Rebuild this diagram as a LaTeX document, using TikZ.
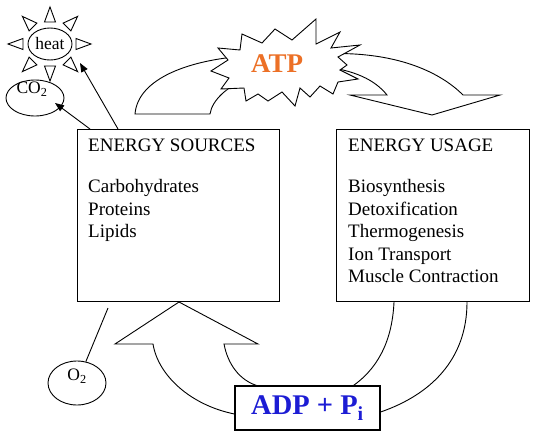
\documentclass[tikz,border=0pt]{standalone}
\usepackage{fontspec}
\setmainfont{Liberation Serif}
\usepackage{tikz}
\usetikzlibrary{arrows.meta,positioning,shapes.geometric}
\definecolor{atporange}{RGB}{236,112,38}
\definecolor{adpblue}{RGB}{28,28,212}

\begin{document}
\begin{tikzpicture}[x=1pt,y=-1pt,
  box/.style={draw,line width=1.1pt,inner sep=0pt},
  txt/.style={font=\fontsize{19}{22.4}\selectfont,align=left,inner sep=0pt,anchor=north west},
  bubble/.style={draw,ellipse,line width=0.9pt,inner sep=0pt},
  small/.style={font=\fontsize{17.5}{19}\selectfont,inner sep=0pt},
  hollow/.style={draw,line width=0.9pt,line join=miter},
  burst/.style={draw,fill=white,line width=0.9pt,line join=miter},
  arr/.style={-{Triangle[length=9pt,width=7pt]},line width=0.9pt},
  link/.style={line width=0.9pt}]
\useasboundingbox (0,0) rectangle (540,431);
% boxes
\node[box,minimum width=202pt,minimum height=172pt,anchor=north west] (src) at (77,129) {};
\node[box,minimum width=193pt,minimum height=172pt,anchor=north west] (use) at (336,129) {};
\node[box,minimum width=145pt,minimum height=44pt,font=\bfseries\fontsize{28.5}{28.5}\selectfont,text=adpblue] (adp) at (307.5,408) {ADP + P\textsubscript{i}};
\node[txt] (srctxt) at (88,138.3) {ENERGY SOURCES\\[19.5pt]Carbohydrates\\Proteins\\Lipids};
\node[txt] (usetxt) at (348,138.3) {ENERGY USAGE\\[19.5pt]Biosynthesis\\Detoxification\\Thermogenesis\\Ion Transport\\Muscle Contraction};
% side products
\node[bubble,minimum width=44pt,minimum height=32pt,small] (heat) at (50,44) {heat};
\foreach \a/\r in {0/26,45/24,90/22,135/24,180/27,225/24,270/22,315/24}
  \draw[hollow,shift={(heat.center)},rotate=\a] (\r,-5.5) -- (\r+15,0) -- (\r,5.5) -- cycle;
\node[bubble,minimum width=58pt,minimum height=36pt] (co2) at (35,98) {};
\node[small] (co2lab) at (32,89) {CO\textsubscript{2}};
\node[bubble,minimum width=58pt,minimum height=44pt] (o2) at (77,383) {};
\node[small] (o2lab) at (77,376) {O\textsubscript{2}};
\coordinate (heattip) at (80,63);
\coordinate (co2tip) at (55,103);
\coordinate (o2src) at (108,308);
\draw[arr] ([xshift=41pt]src.north west) -- (heattip);
\draw[arr] ([xshift=13pt]src.north west) -- (co2tip);
\draw[link] (o2src) -- (o2);
% big hollow arrows, top
\draw[hollow] (135,114) .. controls (138,78) and (190,60) .. (245,56)
  -- (245,80) .. controls (228,86) and (212,100) .. (210,114) -- cycle;
\draw[hollow] (320,54) .. controls (395,50) and (440,72) .. (463,95)
  -- (500,95) -- (432,115) -- (350,95) -- (387,95)
  .. controls (375,80) and (355,70) .. (320,66) -- cycle;
\draw[burst] (316,19) -- (316,44) -- (340,32) -- (331,48) -- (360,45) -- (338,57)
  -- (347,65) -- (340,70) -- (358,79) -- (338,82) -- (333,94) -- (320,86)
  -- (310,97) -- (300,88) -- (295,106) -- (282,92) -- (268,101) -- (258,94)
  -- (246,101) -- (244,88) -- (221,89) -- (229,78) -- (211,71) -- (228,60)
  -- (218,48) -- (240,50) -- (242,34) -- (262,43) -- (275,29) -- (292,40) -- cycle;
\node[font=\bfseries\fontsize{27}{27}\selectfont,text=atporange] (atp) at (277,64) {ATP};
% return path to ADP
\draw[hollow] ([xshift=22pt]adp.north west) .. controls (240,380) and (228,365) .. (224,344)
  -- (258,344) -- (179,302) -- (115,344) -- (153,344)
  .. controls (158,375) and (190,405) .. ([yshift=-6pt]adp.west);
\draw[link] ([xshift=58pt]use.south west) .. controls (392,345) and (375,370) .. ([xshift=-27pt]adp.north east);
\draw[link] ([xshift=131pt]use.south west) .. controls (467,360) and (430,395) .. ([yshift=-4pt]adp.east);
\end{tikzpicture}
\end{document}
